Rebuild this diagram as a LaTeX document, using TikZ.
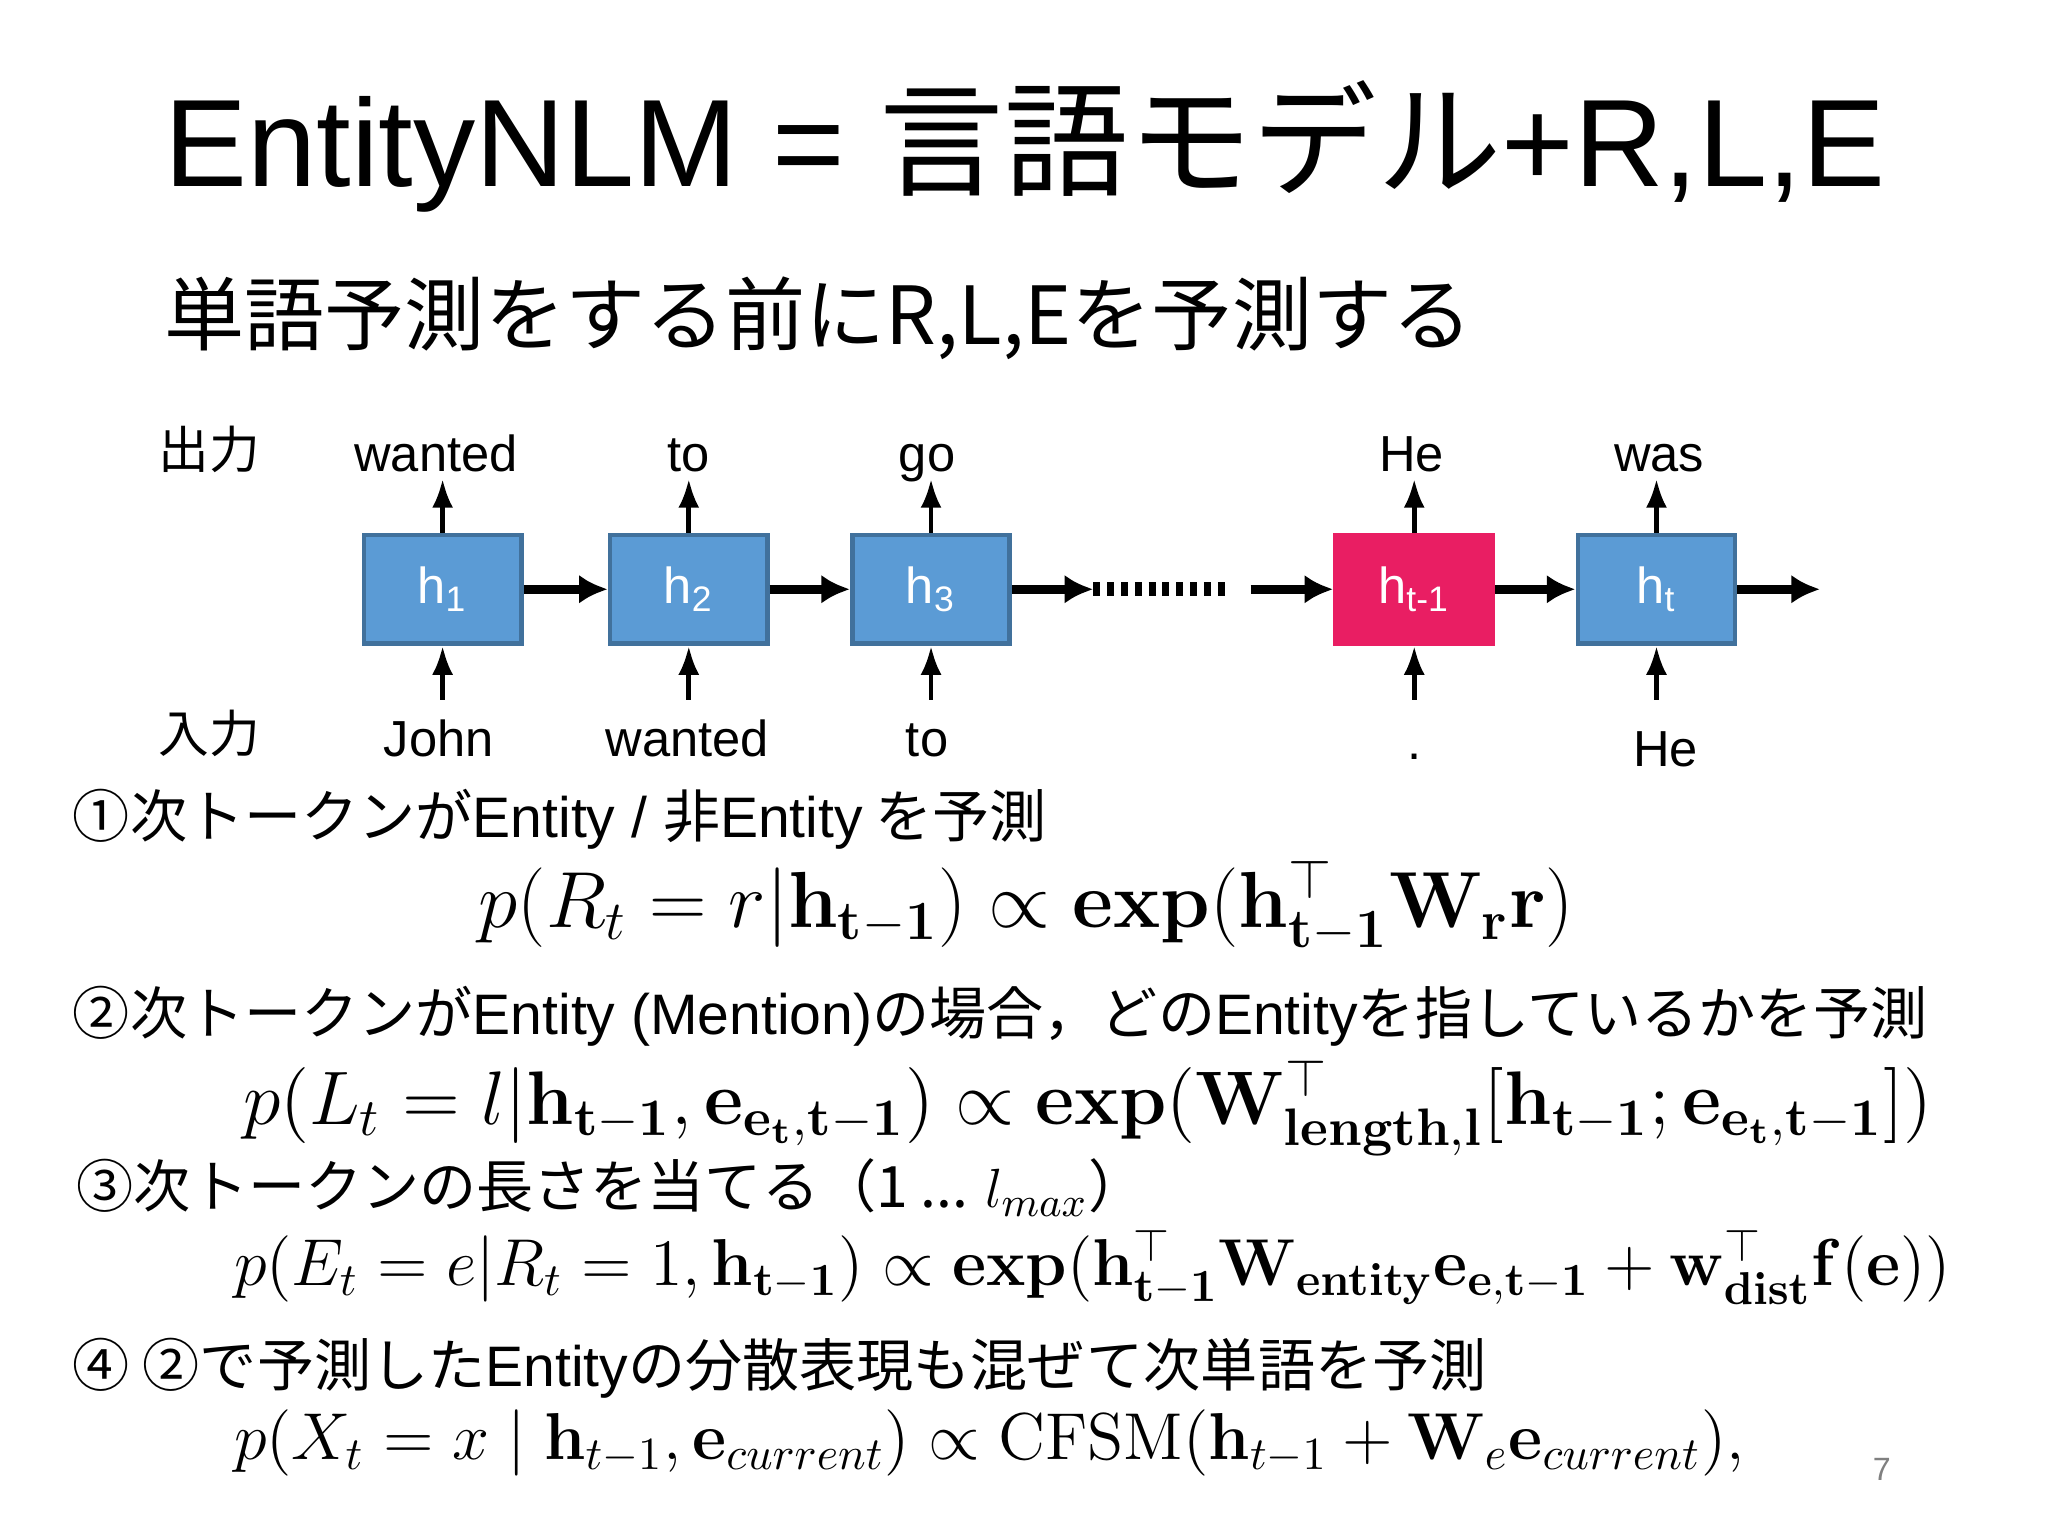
\documentclass[tikz,border=0pt]{standalone}
\usepackage{graphicx}
\usepackage{amsmath,amssymb}
\usepackage[no-math]{fontspec}
\setmainfont{Liberation Sans}
\newfontfamily\cjk{Noto Sans CJK JP}
\usetikzlibrary{arrows.meta}
\definecolor{boxblue}{HTML}{5B9BD5}
\definecolor{boxedge}{HTML}{41719C}
\definecolor{boxpink}{HTML}{E91E63}
\newcommand{\tsub}[1]{\textsubscript{#1}}
\tikzset{
  cell/.style={draw=boxedge,line width=1pt,fill=boxblue,minimum width=1.2cm,minimum height=0.83cm,inner sep=0,text=white,font=\fontsize{11}{13}\selectfont},
  pcell/.style={cell,draw=boxpink,fill=boxpink},
  word/.style={font=\fontsize{11}{13}\selectfont,inner sep=0},
  thin/.style={-{Latex[length=2.2mm,width=1.6mm]},line width=1pt},
  thick/.style={-{Latex[length=2.2mm,width=2.2mm]},line width=2pt},
  item/.style={anchor=west,inner sep=0,font=\fontsize{12.4}{14}\selectfont\cjk},
  eq/.style={anchor=west,inner sep=0,font=\fontsize{14.4}{16}\selectfont},
}
\begin{document}
\begin{tikzpicture}[x=0.01cm,y=-0.01cm]
\fill[white] (0,0) rectangle (1564,1173);
\node[anchor=west,inner sep=0,font=\fontsize{27}{30}\selectfont] (title) at (125,112) {EntityNLM = {\cjk 言語モデル}+R,L,E};
\node[anchor=west,inner sep=0,font=\fontsize{17.4}{19}\selectfont\cjk] (sub) at (125,243) {単語予測をする前にR,L,Eを予測する};
% cells
\node[cell] (h1) at (338,450) {h\tsub{1}};
\node[cell] (h2) at (526,450) {h\tsub{2}};
\node[cell] (h3) at (711,450) {h\tsub{3}};
\node[pcell] (hm) at (1080,450) {h\tsub{t-1}};
\node[cell] (ht) at (1265,450) {h\tsub{t}};
\coordinate (d1) at (835,450);
\coordinate (d2) at (955,450);
\coordinate (dend) at (1390,450);
\draw[thick] (h1) -- (h2);
\draw[thick] (h2) -- (h3);
\draw[thick] (h3) -- (d1);
\draw[line width=3pt,dash pattern=on 1.5pt off 1.5pt] (d1) -- (940,450);
\draw[thick] (d2) -- (hm);
\draw[thick] (hm) -- (ht);
\draw[thick] (ht) -- (dend);
% labels
\node[word,font=\fontsize{11}{13}\selectfont\cjk] (out) at (160,343) {出力};
\node[word,font=\fontsize{11}{13}\selectfont\cjk] (in) at (160,560) {入力};
\foreach \n/\x/\w in {o1/333/wanted,o2/526/to,o3/708/go,o4/1078/He,o5/1267/was}
  \node[word,anchor=base] (\n) at (\x,360) {\w};
\node[word,anchor=base] (i1) at (335,578) {John};
\node[word,anchor=base] (i2) at (525,578) {wanted};
\node[word,anchor=base] (i3) at (708,578) {to};
\node[word,anchor=base] (i4) at (1080,580) {.};
\node[word,anchor=base] (i5) at (1272,585) {He};
\foreach \c in {h1,h2,h3,hm,ht}
  \draw[thin] (\c.north) -- ++(0,-41);
\foreach \c in {h1,h2,h3,hm,ht}
  \draw[thin] ([yshift=-0.41cm]\c.south) -- (\c.south);
% items
\node[item] (t1) at (55,626) {①次トークンが{\rmfamily Entity / }非{\rmfamily Entity} を予測};
\node[eq,font=\fontsize{17.3}{19}\selectfont] (e1) at (365,692) {$p(R_t = r|\mathbf{h}_{\mathbf{t-1}}) \propto \mathbf{exp}(\mathbf{h}_{\mathbf{t-1}}^{\top}\mathbf{W}_{\mathbf{r}}\mathbf{r})$};
\node[item] (t2) at (55,776) {②次トークンが{\rmfamily Entity (Mention)}の場合，どの{\rmfamily Entity}を指しているかを予測};
\node[eq] (e2) at (185,846) {\scalebox{1.145}{$p(L_t = l|\mathbf{h}_{\mathbf{t-1}},\mathbf{e}_{\mathbf{e_t},\mathbf{t-1}}) \propto \mathbf{exp}(\mathbf{W}_{\mathbf{length},\mathbf{l}}^{\top}[\mathbf{h}_{\mathbf{t-1}};\mathbf{e}_{\mathbf{e_t},\mathbf{t-1}}])$}};
\node[item] (t3) at (58,907) {③次トークンの長さを当てる（1 ... {\rmfamily$l_{max}$}）};
\node[eq] (e3) at (178,968) {$p(E_t = e|R_t = 1,\mathbf{h}_{\mathbf{t-1}}) \propto \mathbf{exp}(\mathbf{h}_{\mathbf{t-1}}^{\top}\mathbf{W}_{\mathbf{entity}}\mathbf{e}_{\mathbf{e},\mathbf{t-1}} + \mathbf{w}_{\mathbf{dist}}^{\top}\mathbf{f}(\mathbf{e}))$};
\node[item] (t4) at (55,1045) {④ ②で予測した{\rmfamily Entity}の分散表現も混ぜて次単語を予測};
\node[eq] (e4) at (178,1102) {$p(X_t = x \mid \mathbf{h}_{t-1},\mathbf{e}_{current}) \propto \mathrm{CFSM}(\mathbf{h}_{t-1} + \mathbf{W}_e\mathbf{e}_{current}),$};
\node[inner sep=0,text=gray,font=\fontsize{7}{8}\selectfont] (pg) at (1437,1122) {7};
\end{tikzpicture}
\end{document}
